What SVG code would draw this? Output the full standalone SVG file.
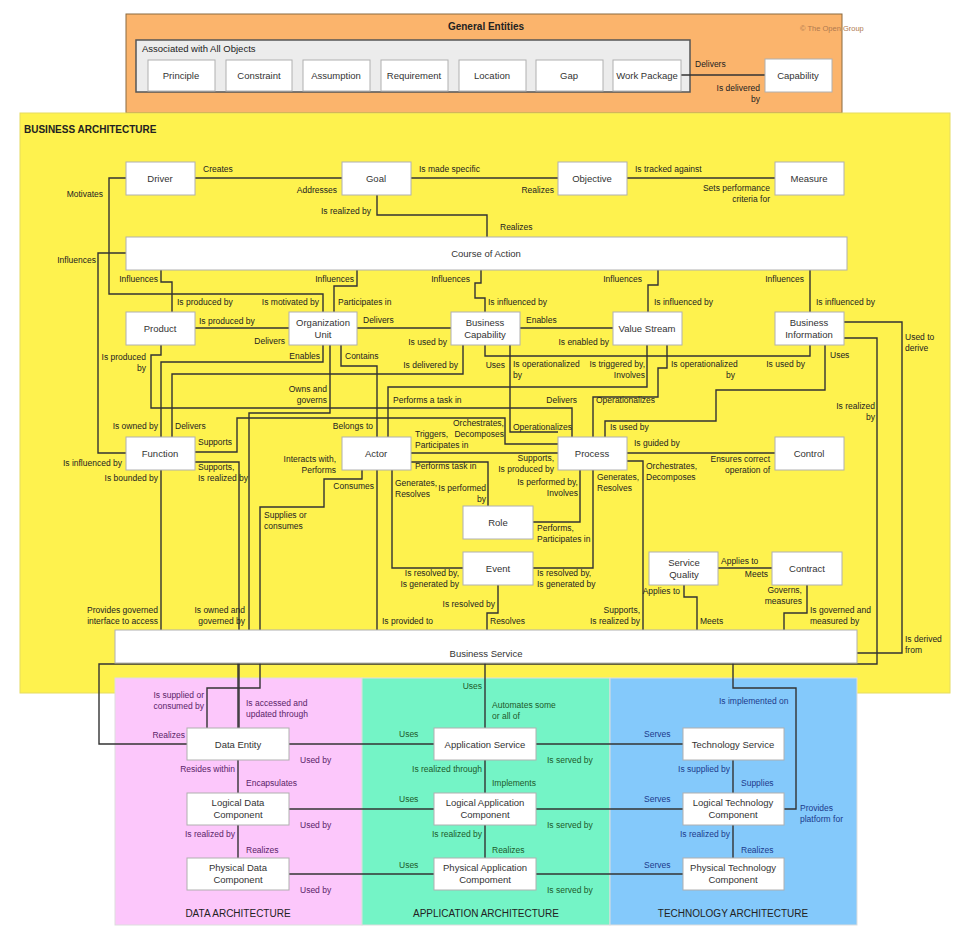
<svg xmlns="http://www.w3.org/2000/svg" width="971" height="943" viewBox="0 0 971 943">
<style>
text{font-family:"Liberation Sans",Arial,sans-serif;font-size:8.5px;fill:#222}
.n rect{fill:#fff;stroke:#b0b0b0;stroke-width:1}
.n text{font-size:9.5px;text-anchor:middle;fill:#333}
.c path{fill:none;stroke:#333;stroke-width:1.4}
.d{fill:#5a2468}.a{fill:#1d5a2a}.t{fill:#1c3a8c}
.h{font-weight:bold;font-size:10px}
</style>
<rect width="971" height="943" fill="#fff"/>
<rect x="126" y="14" width="716" height="99" fill="#fbb46c" stroke="#8a6a40"/>
<text x="486" y="30" class="h" text-anchor="middle">General Entities</text>
<text x="800" y="31" style="font-size:7.5px;fill:#b07a50">© The Open Group</text>
<rect x="136" y="40" width="554" height="52" fill="#ececec" stroke="#555" stroke-width="1.5"/>
<text x="142" y="52" style="font-size:9.5px">Associated with All Objects</text>
<rect x="20" y="113" width="930" height="580" fill="#fef24e" stroke="#e6dc60"/>
<text x="24" y="133" class="h">BUSINESS ARCHITECTURE</text>
<rect x="115" y="678" width="247" height="247" fill="#fcc7fb" stroke="#ddd"/>
<rect x="362" y="678" width="248" height="247" fill="#74f4c6" stroke="#ddd"/>
<rect x="610" y="678" width="247" height="247" fill="#84c9fb" stroke="#ddd"/>
<text x="238" y="917" text-anchor="middle" style="font-size:10px">DATA ARCHITECTURE</text>
<text x="486" y="917" text-anchor="middle" style="font-size:10px">APPLICATION ARCHITECTURE</text>
<text x="733" y="917" text-anchor="middle" style="font-size:10px">TECHNOLOGY ARCHITECTURE</text>

<g class="c">
<path d="M681,75H765"/>
<path d="M195,178H342"/><path d="M411,178H558"/><path d="M627,178H775"/>
<path d="M377,195V215H487V237"/>
<path d="M126,178H109V294H323V312"/>
<path d="M126,253H98V453H126"/>
<path d="M161,270V282H172V312"/>
<path d="M357,270V286H334V312"/>
<path d="M481,270V283H475V298H485V312"/>
<path d="M658,270V285H648V312"/>
<path d="M810,270V312"/>
<path d="M195,328H289"/><path d="M357,328H451"/><path d="M520,328H613"/>
<path d="M844,322H902V653H857"/>
<path d="M844,338H877V664H99V744H187"/>
<path d="M485,345V356H810V345"/>
<path d="M667,345V368H658V397H593V437"/>
<path d="M647,345V387H388V437"/>
<path d="M510,345V432H558"/>
<path d="M825,345V390H716V421H605V437"/>
<path d="M161,345V355H151V408H572V437"/>
<path d="M323,345V362H161V437"/>
<path d="M330,345V413H249V630"/>
<path d="M341,345V366H377V437"/>
<path d="M463,345V374H172V437"/>
<path d="M195,452H237V418H505V444H558"/>
<path d="M195,462H239V728"/>
<path d="M411,453H558"/>
<path d="M627,453H775"/>
<path d="M362,470V479H324V507H260V688H207V728"/>
<path d="M377,470V630"/>
<path d="M411,462H488V506"/>
<path d="M392,470V568H463"/>
<path d="M498,585V613H487V630"/>
<path d="M593,470V568H533"/>
<path d="M533,522H580V470"/>
<path d="M627,461H643V630"/>
<path d="M718,568H772"/>
<path d="M684,585V597H697V630"/>
<path d="M807,585V613H784V630"/>
<path d="M161,470V630"/>
<path d="M238,663V728"/>
<path d="M485,663V728"/>
<path d="M733,663V688H796V809H784"/>
<path d="M289,744H434"/><path d="M536,744H683"/>
<path d="M289,809H434"/><path d="M536,809H683"/>
<path d="M289,874H434"/><path d="M536,874H683"/>
<path d="M238,760V793"/><path d="M238,825V858"/>
<path d="M485,760V793"/><path d="M485,825V858"/>
<path d="M733,760V793"/><path d="M733,825V858"/>
</g>

<g id="principle" class="n"><rect x="148" y="60" width="67" height="31"/><text x="181" y="79">Principle</text></g>
<g id="constraint" class="n"><rect x="226" y="60" width="66" height="31"/><text x="259" y="79">Constraint</text></g>
<g id="assumption" class="n"><rect x="303" y="60" width="67" height="31"/><text x="336" y="79">Assumption</text></g>
<g id="requirement" class="n"><rect x="381" y="60" width="67" height="31"/><text x="414" y="79">Requirement</text></g>
<g id="location" class="n"><rect x="459" y="60" width="67" height="31"/><text x="492" y="79">Location</text></g>
<g id="gap" class="n"><rect x="536" y="60" width="67" height="31"/><text x="569" y="79">Gap</text></g>
<g id="workpackage" class="n"><rect x="613" y="60" width="68" height="31"/><text x="647" y="79">Work Package</text></g>
<g id="capability" class="n"><rect x="765" y="59" width="67" height="33"/><text x="798" y="79">Capability</text></g>

<g id="driver" class="n"><rect x="126" y="162" width="69" height="33"/><text x="160" y="182">Driver</text></g>
<g id="goal" class="n"><rect x="342" y="162" width="69" height="33"/><text x="376" y="182">Goal</text></g>
<g id="objective" class="n"><rect x="558" y="162" width="69" height="33"/><text x="592" y="182">Objective</text></g>
<g id="measure" class="n"><rect x="775" y="162" width="69" height="33"/><text x="809" y="182">Measure</text></g>
<g id="coa" class="n"><rect x="126" y="237" width="721" height="33"/><text x="486" y="257">Course of Action</text></g>
<g id="product" class="n"><rect x="126" y="312" width="69" height="33"/><text x="160" y="332">Product</text></g>
<g id="orgunit" class="n"><rect x="289" y="312" width="68" height="33"/><text x="323" y="326">Organization</text><text x="323" y="338">Unit</text></g>
<g id="buscap" class="n"><rect x="451" y="312" width="69" height="33"/><text x="485" y="326">Business</text><text x="485" y="338">Capability</text></g>
<g id="valuestream" class="n"><rect x="613" y="312" width="69" height="33"/><text x="647" y="332">Value Stream</text></g>
<g id="businfo" class="n"><rect x="775" y="312" width="69" height="33"/><text x="809" y="326">Business</text><text x="809" y="338">Information</text></g>
<g id="function" class="n"><rect x="126" y="437" width="69" height="33"/><text x="160" y="457">Function</text></g>
<g id="actor" class="n"><rect x="342" y="437" width="69" height="33"/><text x="376" y="457">Actor</text></g>
<g id="process" class="n"><rect x="558" y="437" width="69" height="33"/><text x="592" y="457">Process</text></g>
<g id="control" class="n"><rect x="775" y="437" width="69" height="33"/><text x="809" y="457">Control</text></g>
<g id="role" class="n"><rect x="463" y="506" width="70" height="33"/><text x="498" y="526">Role</text></g>
<g id="event" class="n"><rect x="463" y="552" width="70" height="33"/><text x="498" y="572">Event</text></g>
<g id="servicequality" class="n"><rect x="649" y="552" width="69" height="33"/><text x="684" y="566">Service</text><text x="684" y="578">Quality</text></g>
<g id="contract" class="n"><rect x="772" y="552" width="70" height="33"/><text x="807" y="572">Contract</text></g>
<g id="busservice" class="n"><rect x="115" y="630" width="742" height="33"/><text x="486" y="657">Business Service</text></g>
<g id="dataentity" class="n"><rect x="187" y="728" width="102" height="32"/><text x="238" y="748">Data Entity</text></g>
<g id="ldc" class="n"><rect x="187" y="793" width="102" height="32"/><text x="238" y="806">Logical Data</text><text x="238" y="818">Component</text></g>
<g id="pdc" class="n"><rect x="187" y="858" width="102" height="32"/><text x="238" y="871">Physical Data</text><text x="238" y="883">Component</text></g>
<g id="appservice" class="n"><rect x="434" y="728" width="102" height="32"/><text x="485" y="748">Application Service</text></g>
<g id="lac" class="n"><rect x="434" y="793" width="102" height="32"/><text x="485" y="806">Logical Application</text><text x="485" y="818">Component</text></g>
<g id="pac" class="n"><rect x="434" y="858" width="102" height="32"/><text x="485" y="871">Physical Application</text><text x="485" y="883">Compoment</text></g>
<g id="techservice" class="n"><rect x="683" y="728" width="101" height="32"/><text x="733" y="748">Technology Service</text></g>
<g id="ltc" class="n"><rect x="683" y="793" width="101" height="32"/><text x="733" y="806">Logical Technology</text><text x="733" y="818">Component</text></g>
<g id="ptc" class="n"><rect x="683" y="858" width="101" height="32"/><text x="733" y="871">Physical Technology</text><text x="733" y="883">Component</text></g>

<g id="labels">
<text x="695" y="67">Delivers</text><text x="760" y="91" text-anchor="end">Is delivered</text><text x="760" y="102" text-anchor="end">by</text>
<text x="203" y="172">Creates</text><text x="337" y="193" text-anchor="end">Addresses</text>
<text x="419" y="172">Is made specific</text><text x="554" y="193" text-anchor="end">Realizes</text>
<text x="635" y="172">Is tracked against</text><text x="770" y="191" text-anchor="end">Sets performance</text><text x="770" y="202" text-anchor="end">criteria for</text>
<text x="103" y="197" text-anchor="end">Motivates</text><text x="371" y="214" text-anchor="end">Is realized by</text><text x="500" y="230">Realizes</text>
<text x="96" y="263" text-anchor="end">Influences</text>
<text x="158" y="282" text-anchor="end">Influences</text><text x="354" y="282" text-anchor="end">Influences</text><text x="470" y="282" text-anchor="end">Influences</text><text x="642" y="282" text-anchor="end">Influences</text><text x="804" y="282" text-anchor="end">Influences</text>
<text x="177" y="305">Is produced by</text><text x="319" y="305" text-anchor="end">Is motivated by</text><text x="338" y="305">Participates in</text><text x="488" y="305">Is influenced by</text><text x="654" y="305">Is influenced by</text><text x="816" y="305">Is influenced by</text>
<text x="199" y="324">Is produced by</text><text x="363" y="323">Delivers</text><text x="526" y="323">Enables</text><text x="905" y="340">Used to</text><text x="905" y="351">derive</text>
<text x="285" y="344" text-anchor="end">Delivers</text><text x="447" y="345" text-anchor="end">Is used by</text><text x="609" y="345" text-anchor="end">Is enabled by</text>
<text x="146" y="360" text-anchor="end">Is produced</text><text x="146" y="371" text-anchor="end">by</text>
<text x="320" y="359" text-anchor="end">Enables</text><text x="345" y="359">Contains</text>
<text x="458" y="368" text-anchor="end">Is delivered by</text><text x="505" y="368" text-anchor="end">Uses</text><text x="513" y="367">Is operationalized</text><text x="513" y="378">by</text>
<text x="645" y="367" text-anchor="end">Is triggered by,</text><text x="645" y="378" text-anchor="end">Involves</text><text x="671" y="367">Is operationalized</text><text x="735" y="378" text-anchor="end">by</text><text x="805" y="367" text-anchor="end">Is used by</text><text x="830" y="358">Uses</text>
<text x="327" y="392" text-anchor="end">Owns and</text><text x="327" y="403" text-anchor="end">governs</text>
<text x="393" y="403">Performs a task in</text><text x="577" y="403" text-anchor="end">Delivers</text><text x="596" y="403">Operationalizes</text><text x="875" y="409" text-anchor="end">Is realized</text><text x="875" y="420" text-anchor="end">by</text>
<text x="158" y="429" text-anchor="end">Is owned by</text><text x="175" y="429">Delivers</text><text x="373" y="429" text-anchor="end">Belongs to</text><text x="415" y="437">Triggers,</text><text x="415" y="448">Participates in</text><text x="504" y="426" text-anchor="end">Orchestrates,</text><text x="504" y="437" text-anchor="end">Decomposes</text><text x="513" y="430">Operationalizes</text><text x="610" y="430">Is used by</text>
<text x="198" y="445">Supports</text><text x="634" y="446">Is guided by</text>
<text x="122" y="466" text-anchor="end">Is influenced by</text><text x="198" y="470">Supports,</text><text x="198" y="481">Is realized by</text><text x="336" y="462" text-anchor="end">Interacts with,</text><text x="336" y="473" text-anchor="end">Performs</text><text x="415" y="469">Performs task in</text><text x="554" y="461" text-anchor="end">Supports,</text><text x="554" y="472" text-anchor="end">Is produced by</text><text x="646" y="469">Orchestrates,</text><text x="646" y="480">Decomposes</text><text x="770" y="462" text-anchor="end">Ensures correct</text><text x="770" y="473" text-anchor="end">operation of</text>
<text x="158" y="481" text-anchor="end">Is bounded by</text><text x="374" y="489" text-anchor="end">Consumes</text><text x="395" y="486">Generates,</text><text x="395" y="497">Resolves</text><text x="486" y="491" text-anchor="end">Is performed</text><text x="486" y="502" text-anchor="end">by</text><text x="578" y="485" text-anchor="end">Is performed by,</text><text x="578" y="496" text-anchor="end">Involves</text><text x="597" y="480">Generates,</text><text x="597" y="491">Resolves</text>
<text x="264" y="518">Supplies or</text><text x="264" y="529">consumes</text>
<text x="537" y="531">Performs,</text><text x="537" y="542">Participates in</text>
<text x="721" y="564">Applies to</text><text x="768" y="577" text-anchor="end">Meets</text>
<text x="459" y="576" text-anchor="end">Is resolved by,</text><text x="459" y="587" text-anchor="end">Is generated by</text><text x="537" y="576">Is resolved by,</text><text x="537" y="587">Is generated by</text>
<text x="680" y="594" text-anchor="end">Applies to</text><text x="802" y="593" text-anchor="end">Governs,</text><text x="802" y="604" text-anchor="end">measures</text>
<text x="495" y="607" text-anchor="end">Is resolved by</text>
<text x="158" y="613" text-anchor="end">Provides governed</text><text x="158" y="624" text-anchor="end">interface to access</text><text x="245" y="613" text-anchor="end">Is owned and</text><text x="245" y="624" text-anchor="end">governed by</text><text x="382" y="624">Is provided to</text><text x="490" y="624">Resolves</text><text x="640" y="613" text-anchor="end">Supports,</text><text x="640" y="624" text-anchor="end">Is realized by</text><text x="700" y="624">Meets</text><text x="810" y="613">Is governed and</text><text x="810" y="624">measured by</text><text x="905" y="642">Is derived</text><text x="905" y="653">from</text>

<text class="d" x="204" y="698" text-anchor="end">Is supplied or</text><text class="d" x="204" y="709" text-anchor="end">consumed by</text><text class="d" x="246" y="706">Is accessed and</text><text class="d" x="246" y="717">updated through</text>
<text class="a" x="482" y="689" text-anchor="end">Uses</text><text class="a" x="492" y="708">Automates some</text><text class="a" x="492" y="719">or all of</text><text class="t" x="719" y="704">Is implemented on</text>
<text class="d" x="185" y="738" text-anchor="end">Realizes</text><text class="a" x="399" y="737">Uses</text><text class="t" x="644" y="737">Serves</text>
<text class="d" x="300" y="763">Used by</text><text class="a" x="547" y="763">Is served by</text><text class="t" x="730" y="772" text-anchor="end">Is supplied by</text>
<text class="d" x="235" y="772" text-anchor="end">Resides within</text><text class="a" x="482" y="772" text-anchor="end">Is realized through</text>
<text class="d" x="246" y="786">Encapsulates</text><text class="a" x="492" y="786">Implements</text><text class="t" x="741" y="786">Supplies</text>
<text class="a" x="399" y="802">Uses</text><text class="t" x="644" y="802">Serves</text><text class="t" x="800" y="811">Provides</text><text class="t" x="800" y="822">platform for</text>
<text class="d" x="300" y="828">Used by</text><text class="a" x="547" y="828">Is served by</text>
<text class="d" x="235" y="837" text-anchor="end">Is realized by</text><text class="a" x="482" y="837" text-anchor="end">Is realized by</text><text class="t" x="730" y="837" text-anchor="end">Is realized by</text>
<text class="d" x="246" y="853">Realizes</text><text class="a" x="492" y="853">Realizes</text><text class="t" x="741" y="853">Realizes</text>
<text class="a" x="399" y="868">Uses</text><text class="t" x="644" y="868">Serves</text>
<text class="d" x="300" y="893">Used by</text><text class="a" x="547" y="893">Is served by</text>
</g>
</svg>
